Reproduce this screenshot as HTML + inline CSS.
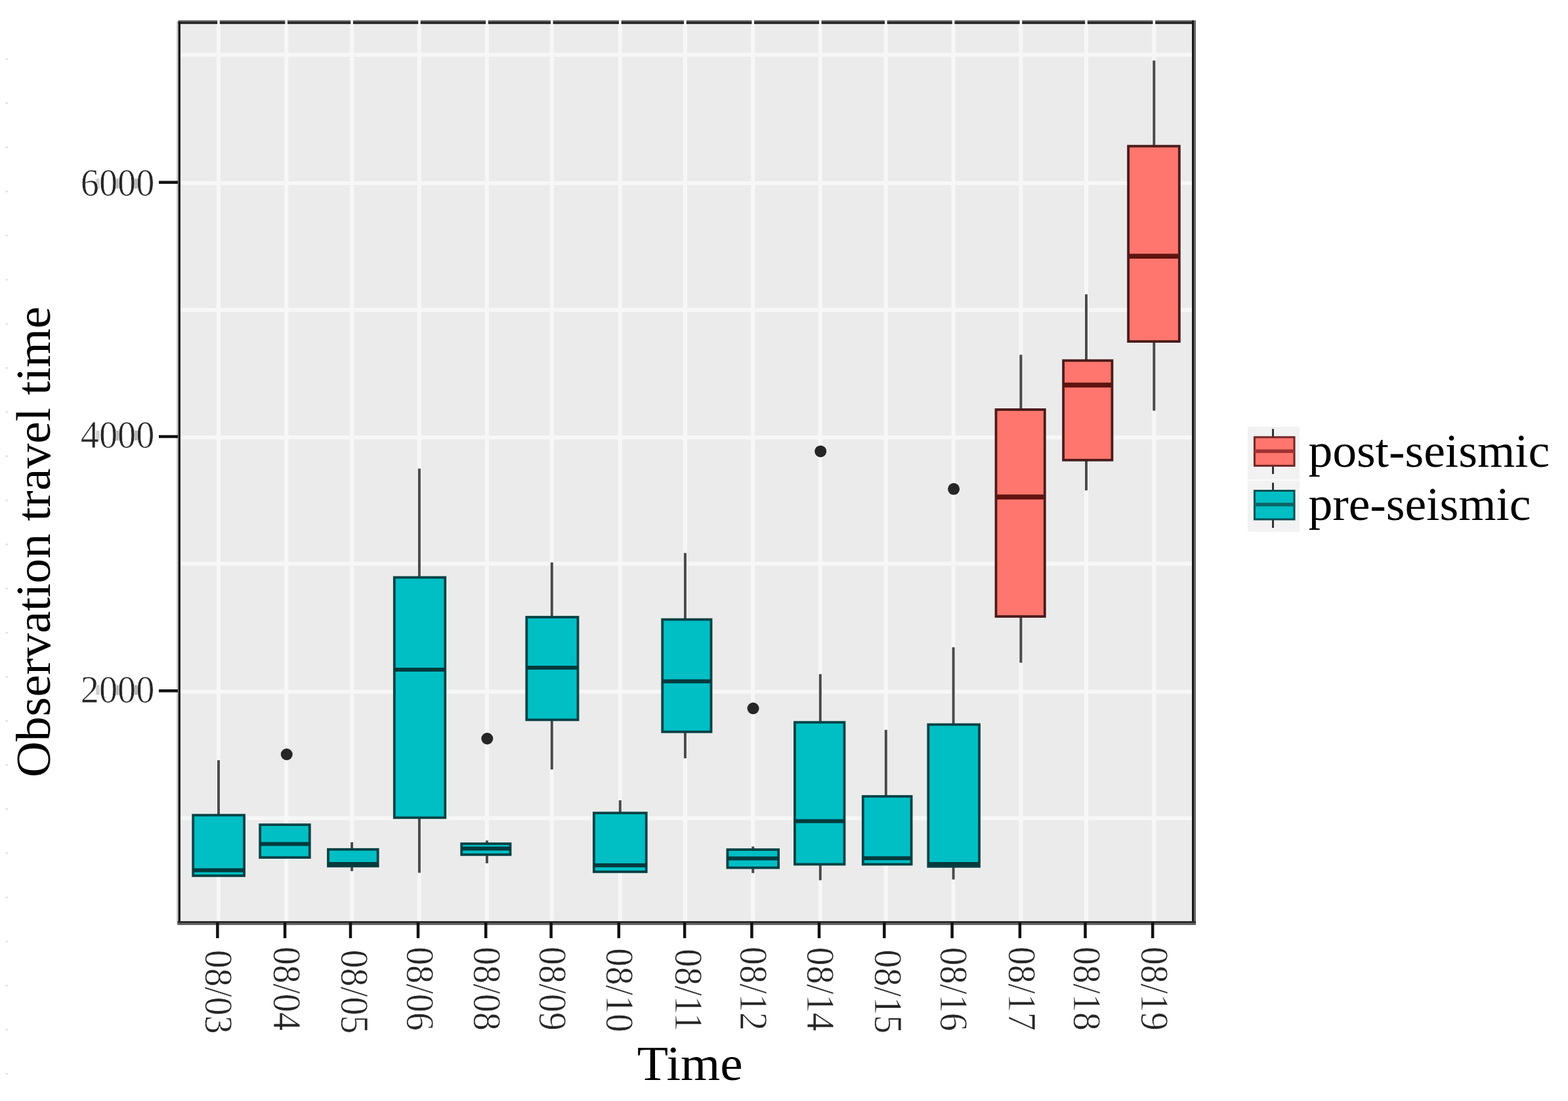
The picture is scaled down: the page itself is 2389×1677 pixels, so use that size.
<!DOCTYPE html><html><head><meta charset="utf-8"><title>Observation travel time boxplot</title>
<style>html,body{margin:0;padding:0;background:#fff;}body{width:2389px;height:1677px;overflow:hidden;}svg{display:block;}</style></head><body>
<svg width="2389" height="1677" viewBox="0 0 2389 1677">
<rect x="0" y="0" width="2389" height="1677" fill="#ffffff"/>
<rect x="8.5" y="88.8" width="3.5" height="2.5" fill="#e2e2e2"/>
<rect x="8.5" y="156.0" width="3.5" height="2.5" fill="#e2e2e2"/>
<rect x="8.5" y="223.2" width="3.5" height="2.5" fill="#e2e2e2"/>
<rect x="8.5" y="290.4" width="3.5" height="2.5" fill="#e2e2e2"/>
<rect x="8.5" y="357.6" width="3.5" height="2.5" fill="#e2e2e2"/>
<rect x="8.5" y="424.8" width="3.5" height="2.5" fill="#e2e2e2"/>
<rect x="8.5" y="492.0" width="3.5" height="2.5" fill="#e2e2e2"/>
<rect x="8.5" y="559.2" width="3.5" height="2.5" fill="#e2e2e2"/>
<rect x="8.5" y="626.4" width="3.5" height="2.5" fill="#e2e2e2"/>
<rect x="8.5" y="693.6" width="3.5" height="2.5" fill="#e2e2e2"/>
<rect x="8.5" y="760.8" width="3.5" height="2.5" fill="#e2e2e2"/>
<rect x="8.5" y="828.0" width="3.5" height="2.5" fill="#e2e2e2"/>
<rect x="8.5" y="895.2" width="3.5" height="2.5" fill="#e2e2e2"/>
<rect x="8.5" y="962.4" width="3.5" height="2.5" fill="#e2e2e2"/>
<rect x="8.5" y="1029.6" width="3.5" height="2.5" fill="#e2e2e2"/>
<rect x="8.5" y="1096.8" width="3.5" height="2.5" fill="#e2e2e2"/>
<rect x="8.5" y="1164.0" width="3.5" height="2.5" fill="#e2e2e2"/>
<rect x="8.5" y="1231.2" width="3.5" height="2.5" fill="#e2e2e2"/>
<rect x="8.5" y="1298.4" width="3.5" height="2.5" fill="#e2e2e2"/>
<rect x="8.5" y="1365.6" width="3.5" height="2.5" fill="#e2e2e2"/>
<rect x="8.5" y="1432.8" width="3.5" height="2.5" fill="#e2e2e2"/>
<rect x="8.5" y="1500.0" width="3.5" height="2.5" fill="#e2e2e2"/>
<rect x="8.5" y="1567.2" width="3.5" height="2.5" fill="#e2e2e2"/>
<rect x="8.5" y="1634.4" width="3.5" height="2.5" fill="#e2e2e2"/>
<rect x="272.5" y="33.5" width="1546.5" height="1372.5" fill="#EBEBEB"/>
<line x1="272.5" x2="1819.0" y1="83.50" y2="83.50" stroke="#F7F7F7" stroke-width="6"/>
<line x1="272.5" x2="1819.0" y1="279.00" y2="279.00" stroke="#F7F7F7" stroke-width="6"/>
<line x1="272.5" x2="1819.0" y1="472.00" y2="472.00" stroke="#F7F7F7" stroke-width="6"/>
<line x1="272.5" x2="1819.0" y1="666.20" y2="666.20" stroke="#F7F7F7" stroke-width="6"/>
<line x1="272.5" x2="1819.0" y1="858.60" y2="858.60" stroke="#F7F7F7" stroke-width="6"/>
<line x1="272.5" x2="1819.0" y1="1053.50" y2="1053.50" stroke="#F7F7F7" stroke-width="6"/>
<line x1="272.5" x2="1819.0" y1="1246.20" y2="1246.20" stroke="#F7F7F7" stroke-width="6"/>
<line x1="333.00" x2="333.00" y1="33.5" y2="1406.0" stroke="#F7F7F7" stroke-width="6"/>
<line x1="436.20" x2="436.20" y1="33.5" y2="1406.0" stroke="#F7F7F7" stroke-width="6"/>
<line x1="536.10" x2="536.10" y1="33.5" y2="1406.0" stroke="#F7F7F7" stroke-width="6"/>
<line x1="638.90" x2="638.90" y1="33.5" y2="1406.0" stroke="#F7F7F7" stroke-width="6"/>
<line x1="741.90" x2="741.90" y1="33.5" y2="1406.0" stroke="#F7F7F7" stroke-width="6"/>
<line x1="840.80" x2="840.80" y1="33.5" y2="1406.0" stroke="#F7F7F7" stroke-width="6"/>
<line x1="944.80" x2="944.80" y1="33.5" y2="1406.0" stroke="#F7F7F7" stroke-width="6"/>
<line x1="1043.90" x2="1043.90" y1="33.5" y2="1406.0" stroke="#F7F7F7" stroke-width="6"/>
<line x1="1147.20" x2="1147.20" y1="33.5" y2="1406.0" stroke="#F7F7F7" stroke-width="6"/>
<line x1="1249.80" x2="1249.80" y1="33.5" y2="1406.0" stroke="#F7F7F7" stroke-width="6"/>
<line x1="1349.80" x2="1349.80" y1="33.5" y2="1406.0" stroke="#F7F7F7" stroke-width="6"/>
<line x1="1452.60" x2="1452.60" y1="33.5" y2="1406.0" stroke="#F7F7F7" stroke-width="6"/>
<line x1="1555.40" x2="1555.40" y1="33.5" y2="1406.0" stroke="#F7F7F7" stroke-width="6"/>
<line x1="1655.00" x2="1655.00" y1="33.5" y2="1406.0" stroke="#F7F7F7" stroke-width="6"/>
<line x1="1758.30" x2="1758.30" y1="33.5" y2="1406.0" stroke="#F7F7F7" stroke-width="6"/>
<line x1="333.00" x2="333.00" y1="1158.0" y2="1241.7" stroke="#4a4a4a" stroke-width="4"/>
<rect x="294.20" y="1241.60" width="77.90" height="92.30" fill="#00BFC4" stroke="#0a4245" stroke-width="3.8"/>
<line x1="294.20" x2="372.10" y1="1325.50" y2="1325.50" stroke="#063a3d" stroke-width="6"/>
<rect x="396.20" y="1256.20" width="75.60" height="49.90" fill="#00BFC4" stroke="#0a4245" stroke-width="3.8"/>
<line x1="396.20" x2="471.80" y1="1285.60" y2="1285.60" stroke="#063a3d" stroke-width="6"/>
<circle cx="436.8" cy="1149.0" r="9" fill="#262626"/>
<line x1="536.10" x2="536.10" y1="1282.9" y2="1293.9" stroke="#4a4a4a" stroke-width="4"/>
<line x1="536.10" x2="536.10" y1="1319.2" y2="1326.8" stroke="#4a4a4a" stroke-width="4"/>
<rect x="500.00" y="1293.80" width="75.70" height="25.50" fill="#00BFC4" stroke="#0a4245" stroke-width="3.8"/>
<line x1="500.00" x2="575.70" y1="1316.00" y2="1316.00" stroke="#063a3d" stroke-width="6"/>
<line x1="638.90" x2="638.90" y1="713.8" y2="879.6" stroke="#4a4a4a" stroke-width="4"/>
<line x1="638.90" x2="638.90" y1="1245.4" y2="1329.4" stroke="#4a4a4a" stroke-width="4"/>
<rect x="600.80" y="879.50" width="77.40" height="366.00" fill="#00BFC4" stroke="#0a4245" stroke-width="3.8"/>
<line x1="600.80" x2="678.20" y1="1020.00" y2="1020.00" stroke="#063a3d" stroke-width="6"/>
<line x1="741.90" x2="741.90" y1="1280.3" y2="1285.2" stroke="#4a4a4a" stroke-width="4"/>
<line x1="741.90" x2="741.90" y1="1301.7" y2="1314.9" stroke="#4a4a4a" stroke-width="4"/>
<rect x="703.20" y="1285.10" width="74.30" height="16.70" fill="#00BFC4" stroke="#0a4245" stroke-width="3.8"/>
<line x1="703.20" x2="777.50" y1="1292.50" y2="1292.50" stroke="#063a3d" stroke-width="6"/>
<circle cx="742.3" cy="1125.0" r="9" fill="#262626"/>
<line x1="840.80" x2="840.80" y1="856.7" y2="940.1" stroke="#4a4a4a" stroke-width="4"/>
<line x1="840.80" x2="840.80" y1="1096.3" y2="1172.0" stroke="#4a4a4a" stroke-width="4"/>
<rect x="802.30" y="940.00" width="78.20" height="156.40" fill="#00BFC4" stroke="#0a4245" stroke-width="3.8"/>
<line x1="802.30" x2="880.50" y1="1017.00" y2="1017.00" stroke="#063a3d" stroke-width="6"/>
<line x1="944.80" x2="944.80" y1="1219.0" y2="1238.4" stroke="#4a4a4a" stroke-width="4"/>
<rect x="904.90" y="1238.30" width="79.80" height="89.60" fill="#00BFC4" stroke="#0a4245" stroke-width="3.8"/>
<line x1="904.90" x2="984.70" y1="1318.00" y2="1318.00" stroke="#063a3d" stroke-width="6"/>
<line x1="1043.90" x2="1043.90" y1="842.3" y2="943.7" stroke="#4a4a4a" stroke-width="4"/>
<line x1="1043.90" x2="1043.90" y1="1114.6" y2="1155.0" stroke="#4a4a4a" stroke-width="4"/>
<rect x="1009.20" y="943.60" width="74.30" height="171.10" fill="#00BFC4" stroke="#0a4245" stroke-width="3.8"/>
<line x1="1009.20" x2="1083.50" y1="1037.70" y2="1037.70" stroke="#063a3d" stroke-width="6"/>
<line x1="1147.20" x2="1147.20" y1="1289.4" y2="1294.2" stroke="#4a4a4a" stroke-width="4"/>
<line x1="1147.20" x2="1147.20" y1="1321.6" y2="1329.8" stroke="#4a4a4a" stroke-width="4"/>
<rect x="1108.40" y="1294.10" width="77.70" height="27.60" fill="#00BFC4" stroke="#0a4245" stroke-width="3.8"/>
<line x1="1108.40" x2="1186.10" y1="1307.50" y2="1307.50" stroke="#063a3d" stroke-width="6"/>
<circle cx="1147.5" cy="1079.0" r="9" fill="#262626"/>
<line x1="1249.80" x2="1249.80" y1="1026.8" y2="1100.3" stroke="#4a4a4a" stroke-width="4"/>
<line x1="1249.80" x2="1249.80" y1="1316.4" y2="1340.7" stroke="#4a4a4a" stroke-width="4"/>
<rect x="1210.90" y="1100.20" width="75.60" height="216.30" fill="#00BFC4" stroke="#0a4245" stroke-width="3.8"/>
<line x1="1210.90" x2="1286.50" y1="1250.70" y2="1250.70" stroke="#063a3d" stroke-width="6"/>
<circle cx="1250.2" cy="687.4" r="9" fill="#262626"/>
<line x1="1349.80" x2="1349.80" y1="1111.7" y2="1213.1" stroke="#4a4a4a" stroke-width="4"/>
<rect x="1314.80" y="1213.00" width="73.80" height="103.50" fill="#00BFC4" stroke="#0a4245" stroke-width="3.8"/>
<line x1="1314.80" x2="1388.60" y1="1307.20" y2="1307.20" stroke="#063a3d" stroke-width="6"/>
<line x1="1452.60" x2="1452.60" y1="985.9" y2="1103.7" stroke="#4a4a4a" stroke-width="4"/>
<line x1="1452.60" x2="1452.60" y1="1319.7" y2="1339.6" stroke="#4a4a4a" stroke-width="4"/>
<rect x="1414.30" y="1103.60" width="77.70" height="216.20" fill="#00BFC4" stroke="#0a4245" stroke-width="3.8"/>
<line x1="1414.30" x2="1492.00" y1="1316.00" y2="1316.00" stroke="#063a3d" stroke-width="6"/>
<circle cx="1453.1" cy="744.8" r="9" fill="#262626"/>
<line x1="1555.40" x2="1555.40" y1="540.4" y2="624.0" stroke="#4a4a4a" stroke-width="4"/>
<line x1="1555.40" x2="1555.40" y1="938.9" y2="1009.4" stroke="#4a4a4a" stroke-width="4"/>
<rect x="1517.50" y="623.90" width="74.30" height="315.10" fill="#FE766E" stroke="#4a1c1a" stroke-width="3.8"/>
<line x1="1517.50" x2="1591.80" y1="756.90" y2="756.90" stroke="#5e1410" stroke-width="7.5"/>
<line x1="1655.00" x2="1655.00" y1="448.3" y2="549.3" stroke="#4a4a4a" stroke-width="4"/>
<line x1="1655.00" x2="1655.00" y1="700.7" y2="746.9" stroke="#4a4a4a" stroke-width="4"/>
<rect x="1620.10" y="549.20" width="74.30" height="151.60" fill="#FE766E" stroke="#4a1c1a" stroke-width="3.8"/>
<line x1="1620.10" x2="1694.40" y1="586.50" y2="586.50" stroke="#5e1410" stroke-width="7.5"/>
<line x1="1758.30" x2="1758.30" y1="92.2" y2="222.7" stroke="#4a4a4a" stroke-width="4"/>
<line x1="1758.30" x2="1758.30" y1="520.0" y2="625.5" stroke="#4a4a4a" stroke-width="4"/>
<rect x="1719.10" y="222.60" width="77.70" height="297.50" fill="#FE766E" stroke="#4a1c1a" stroke-width="3.8"/>
<line x1="1719.10" x2="1796.80" y1="390.30" y2="390.30" stroke="#5e1410" stroke-width="7.5"/>
<rect x="269.2" y="33" width="2.4" height="1375" fill="#c4c4c4"/>
<rect x="271.6" y="31" width="3.3" height="1377" fill="#111"/>
<rect x="271.6" y="31" width="1550.4" height="2.5" fill="#5a5a5a"/>
<rect x="271.6" y="33.3" width="1550.4" height="3.2" fill="#1a1a1a"/>
<rect x="1816" y="31" width="3" height="1377" fill="#1a1a1a"/>
<rect x="1819" y="31" width="3" height="1377" fill="#6a6a6a"/>
<rect x="270.5" y="1403" width="1551.5" height="3" fill="#2e2e2e"/>
<rect x="270.5" y="1406" width="1551.5" height="3" fill="#666"/>
<rect x="331.20" y="30.5" width="3.6" height="6.5" fill="#fbfbfb"/>
<rect x="434.40" y="30.5" width="3.6" height="6.5" fill="#fbfbfb"/>
<rect x="534.30" y="30.5" width="3.6" height="6.5" fill="#fbfbfb"/>
<rect x="637.10" y="30.5" width="3.6" height="6.5" fill="#fbfbfb"/>
<rect x="740.10" y="30.5" width="3.6" height="6.5" fill="#fbfbfb"/>
<rect x="839.00" y="30.5" width="3.6" height="6.5" fill="#fbfbfb"/>
<rect x="943.00" y="30.5" width="3.6" height="6.5" fill="#fbfbfb"/>
<rect x="1042.10" y="30.5" width="3.6" height="6.5" fill="#fbfbfb"/>
<rect x="1145.40" y="30.5" width="3.6" height="6.5" fill="#fbfbfb"/>
<rect x="1248.00" y="30.5" width="3.6" height="6.5" fill="#fbfbfb"/>
<rect x="1348.00" y="30.5" width="3.6" height="6.5" fill="#fbfbfb"/>
<rect x="1450.80" y="30.5" width="3.6" height="6.5" fill="#fbfbfb"/>
<rect x="1553.60" y="30.5" width="3.6" height="6.5" fill="#fbfbfb"/>
<rect x="1653.20" y="30.5" width="3.6" height="6.5" fill="#fbfbfb"/>
<rect x="1756.50" y="30.5" width="3.6" height="6.5" fill="#fbfbfb"/>
<line x1="242" x2="271" y1="1052.24" y2="1052.24" stroke="#111" stroke-width="4.5"/>
<line x1="242" x2="271" y1="664.98" y2="664.98" stroke="#111" stroke-width="4.5"/>
<line x1="242" x2="271" y1="277.72" y2="277.72" stroke="#111" stroke-width="4.5"/>
<line x1="331.40" x2="331.40" y1="1405" y2="1429" stroke="#111" stroke-width="4.5"/>
<line x1="434.10" x2="434.10" y1="1405" y2="1429" stroke="#111" stroke-width="4.5"/>
<line x1="534.00" x2="534.00" y1="1405" y2="1429" stroke="#111" stroke-width="4.5"/>
<line x1="637.00" x2="637.00" y1="1405" y2="1429" stroke="#111" stroke-width="4.5"/>
<line x1="740.20" x2="740.20" y1="1405" y2="1429" stroke="#111" stroke-width="4.5"/>
<line x1="839.60" x2="839.60" y1="1405" y2="1429" stroke="#111" stroke-width="4.5"/>
<line x1="942.80" x2="942.80" y1="1405" y2="1429" stroke="#111" stroke-width="4.5"/>
<line x1="1043.10" x2="1043.10" y1="1405" y2="1429" stroke="#111" stroke-width="4.5"/>
<line x1="1145.40" x2="1145.40" y1="1405" y2="1429" stroke="#111" stroke-width="4.5"/>
<line x1="1248.00" x2="1248.00" y1="1405" y2="1429" stroke="#111" stroke-width="4.5"/>
<line x1="1347.30" x2="1347.30" y1="1405" y2="1429" stroke="#111" stroke-width="4.5"/>
<line x1="1450.60" x2="1450.60" y1="1405" y2="1429" stroke="#111" stroke-width="4.5"/>
<line x1="1553.90" x2="1553.90" y1="1405" y2="1429" stroke="#111" stroke-width="4.5"/>
<line x1="1653.50" x2="1653.50" y1="1405" y2="1429" stroke="#111" stroke-width="4.5"/>
<line x1="1756.20" x2="1756.20" y1="1405" y2="1429" stroke="#111" stroke-width="4.5"/>
<rect x="146.2" y="272.2" width="5.5" height="15" fill="#cfcfcf"/>
<rect x="175.3" y="272.2" width="5.5" height="15" fill="#b4b4b4"/>
<rect x="204.6" y="272.2" width="5.5" height="15" fill="#b4b4b4"/>
<rect x="146.2" y="655.8" width="5.5" height="15" fill="#cfcfcf"/>
<rect x="175.3" y="655.8" width="5.5" height="15" fill="#b4b4b4"/>
<rect x="204.6" y="655.8" width="5.5" height="15" fill="#b4b4b4"/>
<rect x="146.2" y="1043.5" width="5.5" height="15" fill="#cfcfcf"/>
<rect x="175.3" y="1043.5" width="5.5" height="15" fill="#b4b4b4"/>
<rect x="204.6" y="1043.5" width="5.5" height="15" fill="#b4b4b4"/>
<text font-family="'Liberation Serif','Times New Roman',serif" font-size="60" fill="#262626" stroke="#fff" stroke-width="0.7" text-anchor="end" transform="translate(235.3,1069.50) scale(0.938,1)">2000</text>
<text font-family="'Liberation Serif','Times New Roman',serif" font-size="60" fill="#262626" stroke="#fff" stroke-width="0.7" text-anchor="end" transform="translate(235.3,682.00) scale(0.938,1)">4000</text>
<text font-family="'Liberation Serif','Times New Roman',serif" font-size="60" fill="#262626" stroke="#fff" stroke-width="0.7" text-anchor="end" transform="translate(235.3,298.20) scale(0.938,1)">6000</text>
<text font-family="'Liberation Serif','Times New Roman',serif" font-size="61" fill="#262626" stroke="#fff" stroke-width="0.7" transform="translate(313.40,1446.70) rotate(90) scale(0.922,1)">08/03</text>
<text font-family="'Liberation Serif','Times New Roman',serif" font-size="61" fill="#262626" stroke="#fff" stroke-width="0.7" transform="translate(416.70,1441.70) rotate(90) scale(0.922,1)">08/04</text>
<text font-family="'Liberation Serif','Times New Roman',serif" font-size="61" fill="#262626" stroke="#fff" stroke-width="0.7" transform="translate(519.50,1446.50) rotate(90) scale(0.922,1)">08/05</text>
<text font-family="'Liberation Serif','Times New Roman',serif" font-size="61" fill="#262626" stroke="#fff" stroke-width="0.7" transform="translate(620.00,1441.90) rotate(90) scale(0.922,1)">08/06</text>
<text font-family="'Liberation Serif','Times New Roman',serif" font-size="61" fill="#262626" stroke="#fff" stroke-width="0.7" transform="translate(722.20,1441.90) rotate(90) scale(0.922,1)">08/08</text>
<text font-family="'Liberation Serif','Times New Roman',serif" font-size="61" fill="#262626" stroke="#fff" stroke-width="0.7" transform="translate(821.60,1441.80) rotate(90) scale(0.922,1)">08/09</text>
<text font-family="'Liberation Serif','Times New Roman',serif" font-size="61" fill="#262626" stroke="#fff" stroke-width="0.7" transform="translate(924.40,1444.10) rotate(90) scale(0.922,1)">08/10</text>
<text font-family="'Liberation Serif','Times New Roman',serif" font-size="61" fill="#262626" stroke="#fff" stroke-width="0.7" transform="translate(1028.50,1444.90) rotate(90) scale(0.922,1)">08/11</text>
<text font-family="'Liberation Serif','Times New Roman',serif" font-size="61" fill="#262626" stroke="#fff" stroke-width="0.7" transform="translate(1128.00,1441.80) rotate(90) scale(0.922,1)">08/12</text>
<text font-family="'Liberation Serif','Times New Roman',serif" font-size="61" fill="#262626" stroke="#fff" stroke-width="0.7" transform="translate(1230.30,1442.60) rotate(90) scale(0.922,1)">08/14</text>
<text font-family="'Liberation Serif','Times New Roman',serif" font-size="61" fill="#262626" stroke="#fff" stroke-width="0.7" transform="translate(1333.00,1446.20) rotate(90) scale(0.922,1)">08/15</text>
<text font-family="'Liberation Serif','Times New Roman',serif" font-size="61" fill="#262626" stroke="#fff" stroke-width="0.7" transform="translate(1433.30,1442.60) rotate(90) scale(0.922,1)">08/16</text>
<text font-family="'Liberation Serif','Times New Roman',serif" font-size="61" fill="#262626" stroke="#fff" stroke-width="0.7" transform="translate(1536.90,1441.70) rotate(90) scale(0.922,1)">08/17</text>
<text font-family="'Liberation Serif','Times New Roman',serif" font-size="61" fill="#262626" stroke="#fff" stroke-width="0.7" transform="translate(1636.30,1441.70) rotate(90) scale(0.922,1)">08/18</text>
<text font-family="'Liberation Serif','Times New Roman',serif" font-size="61" fill="#262626" stroke="#fff" stroke-width="0.7" transform="translate(1738.70,1441.70) rotate(90) scale(0.922,1)">08/19</text>
<text font-family="'Liberation Serif','Times New Roman',serif" font-size="74" fill="#000" text-anchor="middle" transform="translate(1051.2,1644.8) scale(1.047,1)">Time</text>
<text font-family="'Liberation Serif','Times New Roman',serif" font-size="74" fill="#000" text-anchor="middle" transform="translate(75.5,825.4) rotate(-90) scale(1.0266,1)">Observation travel time</text>
<rect x="1901" y="650.0" width="79" height="80.5" fill="#F2F2F2"/>
<line x1="1939.5" x2="1939.5" y1="653.3" y2="722.0" stroke="#333" stroke-width="3"/>
<rect x="1911.4" y="665.9" width="60.6" height="43.5" fill="#FE766E" stroke="#702626" stroke-width="3"/>
<line x1="1911" x2="1972" y1="687.2" y2="687.2" stroke="#a03232" stroke-width="5.5"/>
<rect x="1901" y="732.0" width="79" height="78.0" fill="#F2F2F2"/>
<line x1="1939.5" x2="1939.5" y1="735.3" y2="804.0" stroke="#333" stroke-width="3"/>
<rect x="1911.4" y="747.5" width="60.6" height="43.5" fill="#00BFC4" stroke="#0b5052" stroke-width="3"/>
<line x1="1911" x2="1972" y1="768.6" y2="768.6" stroke="#0b6466" stroke-width="5.5"/>
<text font-family="'Liberation Serif','Times New Roman',serif" font-size="72" fill="#000" transform="translate(1993.4,710.7) scale(1.022,1)">post-seismic</text>
<text font-family="'Liberation Serif','Times New Roman',serif" font-size="72" fill="#000" transform="translate(1993.4,792.4) scale(1.022,1)">pre-seismic</text>
</svg></body></html>
